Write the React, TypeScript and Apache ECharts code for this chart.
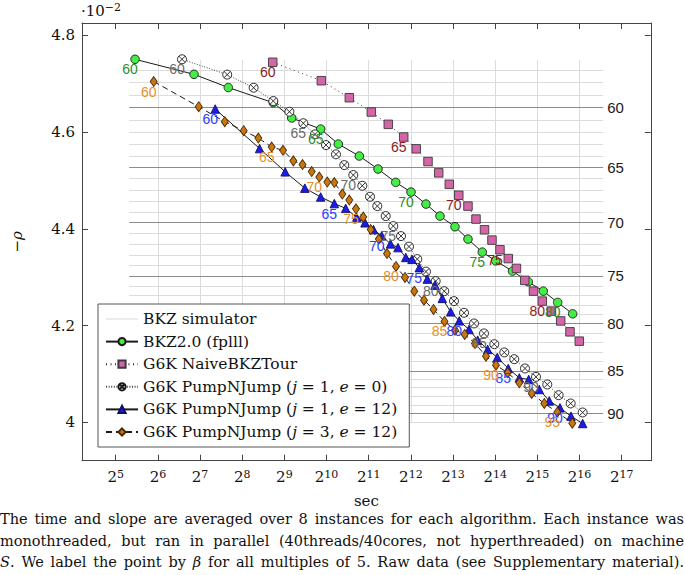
import { useEffect, useRef } from "react";
import * as echarts from "echarts";

const SERIF = "'DejaVu Serif', 'Liberation Serif', serif";
const SANS = "'Liberation Sans', Arial, sans-serif";

// axis ticks (x in log2 seconds, y in units of 1e-2)
const xTicks = [5, 6, 7, 8, 9, 10, 11, 12, 13, 14, 15, 16, 17];
const yTicks = [4, 4.2, 4.4, 4.6, 4.8];

// BKZ simulator: predicted -rho for each block size
const simBetaStart = 57;
const simRho = [
    4.7282, 4.702, 4.6759, 4.6503, 4.6248, 4.5994, 4.5752, 4.5504, 4.527, 4.5042, 4.48, 4.4579,
    4.4352, 4.4132, 4.3905, 4.3684, 4.3456, 4.3243, 4.3028, 4.2821, 4.2635, 4.2422, 4.2235,
    4.2043, 4.1849, 4.1663, 4.1456, 4.127, 4.1063, 4.0885, 4.072, 4.054, 4.0354, 4.0182, 4.0008,
];
const simSpan = [5.32, 16.56];
const gridPowers = [6, 7, 8, 9, 10, 11, 12, 13, 14, 15, 16];
const gridRhoSpan = [4.0008, 4.749];

// BKZ2.0 (fplll), beta 60..81
const bkzSec = [
    5.458, 6.857, 7.67, 8.737, 9.174, 9.861, 10.279, 10.777, 11.22, 11.64, 12.003, 12.358, 12.69,
    13.046, 13.354, 13.693, 14.011, 14.41, 14.784, 15.14, 15.481, 15.837,
];
const bkzRho = [
    4.7504, 4.7193, 4.692, 4.6606, 4.629, 4.6062, 4.5752, 4.5504, 4.5235, 4.496, 4.4759, 4.4511,
    4.4263, 4.4042, 4.3787, 4.3518, 4.3338, 4.3125, 4.2904, 4.2711, 4.2478, 4.2242,
];

// G6K NaiveBKZTour, beta 60..84
const naiveSec = [
    8.723, 9.876, 10.54, 11.061, 11.464, 11.83, 12.126, 12.406, 12.66, 12.911, 13.136, 13.354,
    13.544, 13.746, 13.923, 14.113, 14.31, 14.504, 14.701, 14.908, 15.116, 15.334, 15.553, 15.773,
    15.994,
];
const naiveRho = [
    4.7442, 4.7061, 4.6709, 4.6414, 4.6159, 4.5897, 4.5653, 4.539, 4.5156, 4.492, 4.4693, 4.4469,
    4.4201, 4.3979, 4.3766, 4.3566, 4.3384, 4.3181, 4.2933, 4.2711, 4.2505, 4.2298, 4.2095, 4.187,
    4.1677,
];

// G6K PumpNJump (j=1, e=0), beta 60..94
const pnj10Sec = [
    6.572, 7.644, 8.27, 8.737, 9.119, 9.449, 9.726, 9.987, 10.224, 10.421, 10.635, 10.848, 11.031,
    11.204, 11.403, 11.583, 11.766, 11.955, 12.152, 12.358, 12.588, 12.792, 13.022, 13.26, 13.497,
    13.734, 13.978, 14.215, 14.452, 14.706, 14.967, 15.235, 15.505, 15.79, 16.074,
];
const pnj10Rho = [
    4.7504, 4.7187, 4.6916, 4.6641, 4.642, 4.6182, 4.5952, 4.5731, 4.5539, 4.5317, 4.5111, 4.4889,
    4.4662, 4.4469, 4.4263, 4.4056, 4.3849, 4.3632, 4.3373, 4.3115, 4.2918, 4.2711, 4.2505, 4.2263,
    4.2043, 4.1837, 4.1615, 4.1444, 4.1305, 4.1113, 4.0939, 4.0782, 4.056, 4.0389, 4.0203,
];

// G6K PumpNJump (j=1, e=12), beta 60..92
const pnj112Sec = [
    7.359, 8.412, 9.019, 9.484, 9.861, 10.184, 10.454, 10.715, 10.912, 11.113, 11.308, 11.517,
    11.694, 11.879, 12.026, 12.2, 12.389, 12.572, 12.745, 12.944, 13.148, 13.378, 13.584, 13.821,
    14.049, 14.31, 14.571, 14.794, 15.045, 15.282, 15.536, 15.797, 16.074,
];
const pnj112Rho = [
    4.6476, 4.5659, 4.5177, 4.484, 4.4658, 4.4521, 4.4422, 4.4236, 4.4124, 4.3983, 4.3855, 4.3688,
    4.3611, 4.3408, 4.3369, 4.3197, 4.296, 4.2835, 4.2561, 4.2283, 4.2097, 4.1919, 4.1698, 4.1506,
    4.134, 4.1113, 4.0918, 4.0885, 4.0678, 4.0442, 4.0298, 4.0126, 3.9975,
];

// G6K PumpNJump (j=3, e=12), beta 60..96
const pnj312Sec = [
    5.901, 6.968, 7.585, 8.035, 8.382, 8.699, 8.967, 9.212, 9.43, 9.648, 9.828, 10.018, 10.184,
    10.374, 10.54, 10.698, 10.871, 11.047, 11.239, 11.434, 11.647, 11.86, 12.081, 12.311, 12.536,
    12.797, 13.046, 13.276, 13.52, 13.781, 14.018, 14.296, 14.571, 14.865, 15.164, 15.472, 15.828,
];
const pnj312Rho = [
    4.7044, 4.6523, 4.6213, 4.6027, 4.5876, 4.569, 4.5622, 4.5404, 4.5328, 4.5183, 4.5069, 4.4966,
    4.4956, 4.4718, 4.4594, 4.4414, 4.4242, 4.3983, 4.3787, 4.3487, 4.3222, 4.2995, 4.2711, 4.2525,
    4.2333, 4.2085, 4.1905, 4.1816, 4.163, 4.1367, 4.1181, 4.1022, 4.0815, 4.0596, 4.0389, 4.0209,
    3.9981,
];

const OTIMES =
    "path://M0,10A10,10,0,1,1,20,10A10,10,0,1,1,0,10ZM2.93,2.93L17.07,17.07M17.07,2.93L2.93,17.07";

type Style = {
    symbol: string;
    symbolSize: number | number[];
    fill: string;
    border: string;
    line: any;
    labelColor: string;
};

function measureSeries(name: string, xs: number[], ys: number[], st: Style) {
    return {
        name,
        type: "line",
        data: xs.map((x, i) => [x, ys[i]]),
        symbol: st.symbol,
        symbolSize: st.symbolSize,
        showSymbol: true,
        z: 3,
        itemStyle: { color: st.fill, borderColor: st.border, borderWidth: 0.9, opacity: 1 },
        lineStyle: st.line,
        label: {
            show: true,
            position: "inside",
            offset: [-5, 10],
            color: st.labelColor,
            fontFamily: SANS,
            fontSize: 14,
            formatter: (p: any) => {
                const beta = 60 + p.dataIndex;
                return beta % 5 === 0 ? String(beta) : "";
            },
        },
        emphasis: { disabled: true },
    };
}

// legend label: roman text with italic j and e
function legendLabel(name: string) {
    return name
        .split(/\b([je])(?= =)/)
        .map((part, i) => (part === "" ? "" : i % 2 === 1 ? `{i|${part}}` : `{r|${part}}`))
        .join("");
}

export default function App() {
    const chartRef = useRef<HTMLDivElement | null>(null);

    useEffect(() => {
        if (!chartRef.current) return;
        const chart = echarts.init(chartRef.current, undefined, { renderer: "svg" });

        const simLines: any[] = simRho.map((v, i) => {
            const beta = simBetaStart + i;
            const major = beta % 5 === 0;
            return [
                {
                    coord: [simSpan[0], v],
                    lineStyle: major
                        ? { color: "#8c8c8c", width: 1.2, type: "solid" }
                        : { color: "#dcdcdc", width: 1, type: "solid" },
                    label: major
                        ? {
                              show: true,
                              position: "end",
                              distance: 4,
                              formatter: String(beta),
                              color: "#1a1a1a",
                              fontFamily: SANS,
                              fontSize: 15,
                          }
                        : { show: false },
                },
                { coord: [simSpan[1], v] },
            ];
        });
        const gridLines: any[] = gridPowers.map((p) => [
            { coord: [p, gridRhoSpan[0]], lineStyle: { color: "#dcdcdc", width: 1, type: "solid" } },
            { coord: [p, gridRhoSpan[1]] },
        ]);

        const xRange = { min: 4.2, max: 17.69 };
        const yRange = { min: 3.9206, max: 4.8254 };

        const option: any = {
            animation: false,
            backgroundColor: "#ffffff",
            grid: { left: 82, right: 34.2, top: 23, bottom: 49.3, outerBoundsMode: "none" },
            graphic: [
                {
                    type: "text",
                    left: 81,
                    top: 2,
                    style: {
                        text: "{a|·10}{b|−2}",
                        rich: {
                            a: { fontFamily: SERIF, fontSize: 15, lineHeight: 16, verticalAlign: "bottom", fill: "#111" },
                            b: { fontFamily: SERIF, fontSize: 11, lineHeight: 11, verticalAlign: "top", fill: "#111", padding: [0, 0, 6, 0] },
                        },
                    },
                },
            ],
            legend: {
                orient: "vertical",
                left: 98,
                top: 304,
                z: 20,
                padding: [6, 12, 6, 7],
                itemWidth: 32,
                itemHeight: 9,
                itemGap: 4.6,
                backgroundColor: "#ffffff",
                borderColor: "#555555",
                borderWidth: 1,
                borderRadius: 0,
                selectedMode: false,
                data: [
                    { name: "BKZ simulator", icon: "path://M0,0H40V1H0Z" },
                    "BKZ2.0 (fplll)",
                    "G6K NaiveBKZTour",
                    "G6K PumpNJump (j = 1, e = 0)",
                    "G6K PumpNJump (j = 1, e = 12)",
                    "G6K PumpNJump (j = 3, e = 12)",
                ],
                formatter: legendLabel,
                textStyle: {
                    fontFamily: SERIF,
                    fontSize: 15.5,
                    lineHeight: 18,
                    color: "#111",
                    rich: {
                        r: { fontFamily: SERIF, fontSize: 15.5, color: "#111" },
                        i: { fontFamily: SERIF, fontSize: 15.5, fontStyle: "italic", color: "#111" },
                    },
                },
            },
            xAxis: [
                {
                    type: "value",
                    ...xRange,
                    name: "sec",
                    nameLocation: "middle",
                    nameGap: 28,
                    nameTextStyle: { fontFamily: SERIF, fontSize: 15, color: "#111" },
                    axisLine: { show: true, lineStyle: { color: "#444", width: 1 } },
                    axisTick: { show: true, inside: true, length: 6, customValues: xTicks, lineStyle: { color: "#444" } },
                    axisLabel: {
                        customValues: xTicks,
                        margin: 8,
                        formatter: (v: number) => `{b|2}{s|${Math.round(v)}}`,
                        rich: {
                            b: { fontFamily: SERIF, fontSize: 15, lineHeight: 16, verticalAlign: "bottom", color: "#111" },
                            s: { fontFamily: SERIF, fontSize: 11, lineHeight: 11, verticalAlign: "top", color: "#111", padding: [0, 0, 9, 0] },
                        },
                    },
                    splitLine: { show: false },
                },
                {
                    type: "value",
                    position: "top",
                    ...xRange,
                    axisLine: { show: true, lineStyle: { color: "#444", width: 1 } },
                    axisTick: { show: true, inside: true, length: 6, customValues: xTicks, lineStyle: { color: "#444" } },
                    axisLabel: { show: false },
                    splitLine: { show: false },
                },
            ],
            yAxis: [
                {
                    type: "value",
                    ...yRange,
                    name: "{m|−}{r|ρ}",
                    nameLocation: "middle",
                    nameGap: 58,
                    nameRotate: 90,
                    nameTextStyle: {
                        rich: {
                            m: { fontFamily: SERIF, fontSize: 15, color: "#111" },
                            r: { fontFamily: SERIF, fontSize: 15, fontStyle: "italic", color: "#111" },
                        },
                    },
                    axisLine: { show: true, lineStyle: { color: "#444", width: 1 } },
                    axisTick: { show: true, inside: true, length: 6, customValues: yTicks, lineStyle: { color: "#444" } },
                    axisLabel: {
                        customValues: yTicks,
                        margin: 7,
                        fontFamily: SERIF,
                        fontSize: 15,
                        color: "#111",
                        formatter: (v: number) => String(Math.round(v * 10) / 10),
                    },
                    splitLine: { show: false },
                },
                {
                    type: "value",
                    position: "right",
                    ...yRange,
                    axisLine: { show: true, lineStyle: { color: "#444", width: 1 } },
                    axisTick: { show: true, inside: true, length: 6, customValues: yTicks, lineStyle: { color: "#444" } },
                    axisLabel: { show: false },
                    splitLine: { show: false },
                },
            ],
            series: [
                {
                    name: "BKZ simulator",
                    type: "line",
                    data: [],
                    symbol: "none",
                    z: 1,
                    lineStyle: { color: "#d6d6d6", width: 1.2 },
                    itemStyle: { color: "#d0d0d0" },
                    markLine: {
                        silent: true,
                        z: 1,
                        symbol: ["none", "none"],
                        animation: false,
                        label: { show: false },
                        data: [...gridLines, ...simLines],
                    },
                },
                measureSeries("BKZ2.0 (fplll)", bkzSec, bkzRho, {
                    symbol: "circle",
                    symbolSize: 8.5,
                    fill: "#44ee44",
                    border: "#1a1a1a",
                    line: { color: "#1a1a1a", width: 1, type: "solid" },
                    labelColor: "#2e8b2e",
                }),
                measureSeries("G6K NaiveBKZTour", naiveSec, naiveRho, {
                    symbol: "rect",
                    symbolSize: 8.5,
                    fill: "#d466a8",
                    border: "#3a3a3a",
                    line: { color: "#333", width: 1, type: [1, 3.5] },
                    labelColor: "#8b1a1a",
                }),
                measureSeries("G6K PumpNJump (j = 1, e = 0)", pnj10Sec, pnj10Rho, {
                    symbol: OTIMES,
                    symbolSize: 9,
                    fill: "#ffffff",
                    border: "#1a1a1a",
                    line: { color: "#444", width: 1, type: [1, 1.6] },
                    labelColor: "#6a6a6a",
                }),
                measureSeries("G6K PumpNJump (j = 1, e = 12)", pnj112Sec, pnj112Rho, {
                    symbol: "triangle",
                    symbolSize: 8.5,
                    fill: "#1c1ce8",
                    border: "#10106a",
                    line: { color: "#1a1a1a", width: 1, type: "solid" },
                    labelColor: "#2b3cff",
                }),
                measureSeries("G6K PumpNJump (j = 3, e = 12)", pnj312Sec, pnj312Rho, {
                    symbol: "diamond",
                    symbolSize: [7, 10],
                    fill: "#c8780e",
                    border: "#4a2a05",
                    line: { color: "#1a1a1a", width: 1, type: [6, 4] },
                    labelColor: "#e8902a",
                }),
            ],
        };

        chart.setOption(option);
        return () => chart.dispose();
    }, []);

    const lineStyle: React.CSSProperties = {
        textAlign: "justify",
        textAlignLast: "justify",
        whiteSpace: "nowrap",
        height: 21.5,
    };

    return (
        <div style={{ position: "absolute", left: 0, top: 0, width: 685, height: 575, background: "#fff" }}>
            <div ref={chartRef} style={{ width: 685, height: 510 }} />
            <div
                style={{
                    position: "absolute",
                    left: 0,
                    top: 509,
                    width: 684,
                    fontFamily: SERIF,
                    fontSize: 14.5,
                    lineHeight: "21.5px",
                    color: "#111",
                }}
            >
                <div style={lineStyle}>
                    The time and slope are averaged over 8 instances for each algorithm. Each instance was
                </div>
                <div style={lineStyle}>
                    monothreaded, but ran in parallel (40threads/40cores, not hyperthreaded) on machine
                </div>
                <div style={lineStyle}>
                    <i>S</i>. We label the point by <i>β</i> for all multiples of 5. Raw data (see Supplementary material).
                </div>
            </div>
        </div>
    );
}
